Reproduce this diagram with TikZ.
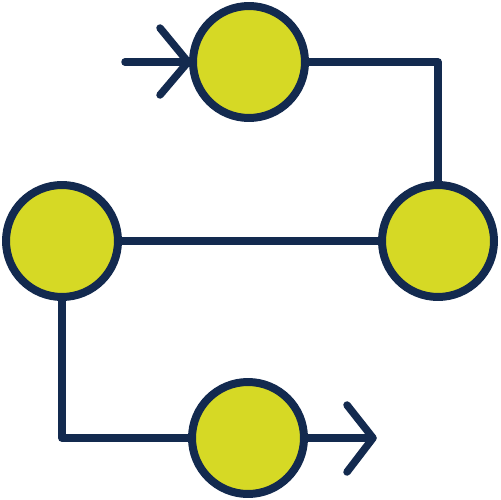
\documentclass[tikz,border=0pt]{standalone}
\definecolor{navy}{HTML}{132A4F}
\definecolor{lime}{HTML}{D6D925}
\begin{document}
\begin{tikzpicture}[x=0.02cm,y=-0.02cm,
  ball/.style={circle,draw=navy,fill=lime,line width=0.16cm,minimum size=2.24cm,inner sep=0pt},
  wire/.style={draw=navy,line width=0.15cm,line cap=round,line join=round}]
\fill[white] (0,0) rectangle (500,500);
\useasboundingbox (0,0) rectangle (500,500);
\node[ball] (top) at (249,62) {};
\node[ball] (right) at (438,241) {};
\node[ball] (left) at (62,241) {};
\node[ball] (bottom) at (248,438) {};
\coordinate (start) at (125,62);
\coordinate (tipA) at (188,62);
\coordinate (a1) at (160,28);
\coordinate (a2) at (160,95);
\coordinate (corner1) at (438,62);
\coordinate (corner2) at (62,438);
\coordinate (tipB) at (373,438);
\coordinate (b1) at (347,405);
\coordinate (b2) at (347,472);
\draw[wire,line cap=butt] (start) -- (top.west);
\draw[wire,line cap=round] (start) -- ++(1,0);
\draw[wire,line cap=butt] (top.east) -- (corner1) -- (right.north);
\draw[wire,line cap=butt] (left.east) -- (right.west);
\draw[wire,line cap=butt] (left.south) -- (corner2) -- (bottom.west);
\draw[wire,line cap=butt] (bottom.east) -- (tipB);
\draw[wire] (a1) -- (tipA) -- (a2);
\draw[wire] (b1) -- (tipB) -- (b2);
\end{tikzpicture}
\end{document}
